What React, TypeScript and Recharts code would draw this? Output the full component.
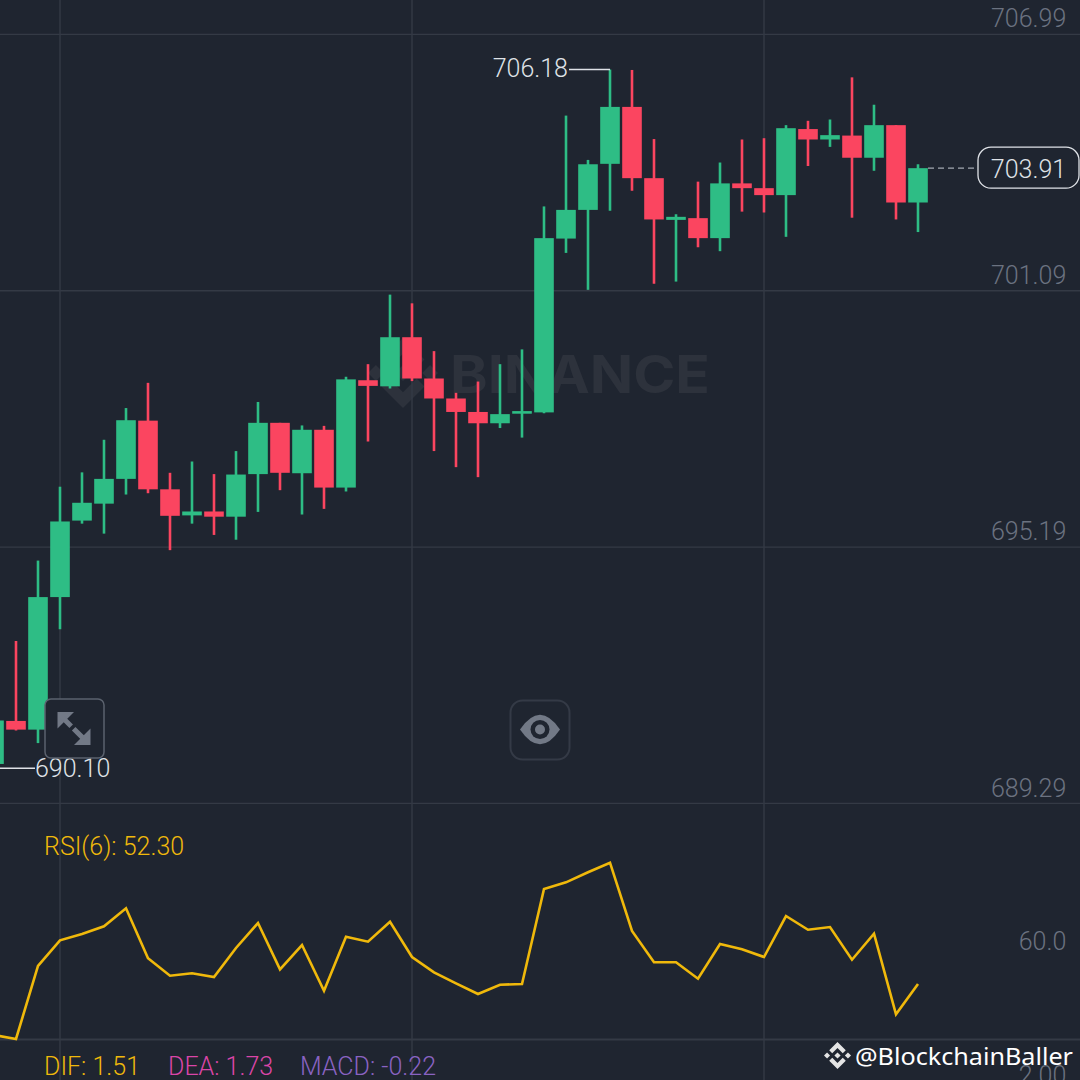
import React from 'react';
import {
  ComposedChart, Bar, Line, XAxis, YAxis, CartesianGrid, ReferenceDot, ReferenceLine
} from 'recharts';

// candle values, oldest first
const opens = [690.20, 691.19, 690.99, 694.04, 695.80, 696.19, 696.76, 698.10, 696.52, 695.92, 696.01, 695.89, 696.87, 698.05, 696.89, 697.89, 696.56, 699.03, 698.89, 700.02, 699.07, 698.61, 698.30, 698.04, 698.26, 698.29, 702.29, 702.95, 704.01, 705.32, 703.68, 702.72, 702.76, 702.30, 703.56, 703.45, 703.29, 704.81, 704.57, 704.66, 704.15, 704.90, 703.12];
const highs = [691.35, 693.03, 694.88, 696.58, 696.91, 697.66, 698.39, 698.97, 696.90, 697.16, 696.87, 697.40, 698.53, 698.05, 697.99, 697.98, 699.11, 699.40, 701.00, 700.80, 699.70, 698.74, 699.00, 699.40, 699.74, 703.03, 705.12, 704.10, 706.18, 706.17, 704.58, 702.85, 703.60, 704.04, 704.57, 704.60, 704.90, 705.00, 705.03, 706.00, 705.37, 704.90, 704.00];
const lows = [690.10, 690.97, 690.68, 693.30, 695.73, 695.50, 696.40, 696.43, 695.12, 695.73, 695.47, 695.36, 696.00, 696.50, 695.94, 696.07, 696.47, 697.62, 698.84, 699.01, 697.40, 697.03, 696.80, 697.93, 697.71, 698.27, 701.96, 701.11, 702.93, 703.39, 701.25, 701.30, 702.09, 702.00, 702.91, 702.89, 702.33, 703.96, 704.40, 702.77, 703.85, 702.73, 702.44];
const closes = [691.20, 690.99, 694.04, 695.78, 696.21, 696.76, 698.11, 696.52, 695.91, 696.01, 695.89, 696.86, 698.05, 696.90, 697.89, 696.56, 699.05, 698.90, 700.02, 699.07, 698.61, 698.30, 698.04, 698.25, 698.32, 702.30, 702.95, 704.00, 705.32, 703.68, 702.73, 702.79, 702.30, 703.56, 703.45, 703.29, 704.83, 704.57, 704.67, 704.15, 704.90, 703.12, 703.91];
const rsiValues = [38.0, 36.9, 57.34, 64.54, 66.30, 68.46, 73.50, 59.50, 54.62, 55.29, 54.26, 62.38, 69.38, 56.41, 63.22, 50.42, 65.55, 64.15, 69.75, 59.86, 55.57, 52.49, 49.50, 52.10, 52.30, 78.91, 80.78, 83.59, 86.27, 67.14, 58.38, 58.38, 53.78, 63.50, 62.02, 59.86, 71.34, 67.50, 68.26, 59.10, 66.39, 43.81, 52.30];

const priceTicks = [689.29, 695.19, 701.09, 706.99];
const priceDomain = [689.29, 707.826]; // top runs past the last tick so the vertical grid reaches the edge
const rsiTicks = [60];
const macdTicks = [2];
const gridCandles = [3, 19, 35];
const emptySlots = 7;

const maxPrice = 706.18;
const minPrice = 690.10;
const lastPrice = 703.91;

const data = [...opens, ...Array(emptySlots).fill(null)].map((_, i) => ({
  i,
  open: opens[i],
  high: highs[i],
  low: lows[i],
  close: closes[i],
  range: i < opens.length ? [lows[i], highs[i]] : null,
  rsi: i < opens.length ? rsiValues[i] : null,
}));

const BG = '#1f2530';
const GRID = '#343a45';
const AXIS_TEXT = '#6b7280';
const UP = '#2EBD85';
const DOWN = '#FB4560';
const SOFT_WHITE = '#dfe2e7';
const GOLD = '#F0B90B';
const FONT = 'Roboto, sans-serif';
const FONT_SIZE = 25;

const CHART_LEFT = -17.3;
const CHART_WIDTH = 1100;
const LABEL_X = 1066 - CHART_LEFT;

const Candle = (props: any) => {
  const { x, y, width, height, payload } = props;
  if (payload.open == null) return null;
  const top = Math.min(y, y + height);
  const h = Math.abs(height);
  const span = payload.high - payload.low;
  const toY = (v: number) => top + ((payload.high - v) / span) * h;
  const color = payload.close >= payload.open ? UP : DOWN;
  const bodyTop = toY(Math.max(payload.open, payload.close));
  const bodyBottom = toY(Math.min(payload.open, payload.close));
  const cx = x + width / 2;
  return (
    <g>
      <line x1={cx} x2={cx} y1={top} y2={top + h} stroke={color} strokeWidth={2.6} />
      <rect x={x + 0.2} y={bodyTop} width={width - 0.4} height={Math.max(bodyBottom - bodyTop, 1)} fill={color} />
    </g>
  );
};

const axisTick = (digits: number) => (props: any) => (
  <text x={LABEL_X} y={props.y - 7} textAnchor="end" fontFamily={FONT} fontWeight={300} fontSize={FONT_SIZE} fill={AXIS_TEXT}>
    {Number(props.payload.value).toFixed(digits)}
  </text>
);

const BinanceMark = ({ x, y, size, fill }: { x: number; y: number; size: number; fill: string }) => (
  <g transform={`translate(${x} ${y}) scale(${size / 126.61})`} fill={fill}>
    <path d="M38.73 53.2L63.3 28.63 87.88 53.21l14.3-14.3L63.3 0 24.43 38.88z" />
    <path d="M0 63.31L14.3 49.01 28.6 63.31 14.3 77.61z" />
    <path d="M38.73 73.41L63.3 97.98 87.88 73.4 102.19 87.69 63.3 126.61 24.42 87.72z" />
    <path d="M98.01 63.31L112.31 49.01 126.61 63.31 112.31 77.61z" />
    <path d="M77.83 63.3L63.3 48.76 48.77 63.28 63.3 77.83z" />
  </g>
);

const xAxisProps = {
  dataKey: 'i',
  scale: 'band' as const,
  ticks: gridCandles,
  interval: 0 as const,
  tick: () => <g />,
  axisLine: false,
  tickLine: false,
  height: 1,
  mirror: true,
};

const panelStyle = (top: number): React.CSSProperties => ({ position: 'absolute', left: CHART_LEFT, top });

export default function App() {
  return (
    <div style={{ position: 'absolute', left: 0, top: 0, width: 1080, height: 1080, overflow: 'hidden', background: BG }}>
      {/* watermark sits under the candles */}
      <svg width={1080} height={1080} style={{ position: 'absolute', left: 0, top: 0 }}>
        <BinanceMark x={368} y={338} size={70} fill="#2d323c" />
        <text x={450} y={392.5} fontFamily="Inter, sans-serif" fontWeight={700} fontSize={52} textLength={260} lengthAdjust="spacingAndGlyphs" fill="#2d323c">
          BINANCE
        </text>
      </svg>

      <div style={panelStyle(-2)}>
        <ComposedChart width={CHART_WIDTH} height={806} data={data} margin={{ top: 0, right: 0, bottom: 0.5, left: 0 }} barSize={20}>
          <CartesianGrid stroke={GRID} strokeWidth={1.4} />
          <XAxis {...xAxisProps} />
          <YAxis
            orientation="right"
            width={1}
            mirror
            domain={priceDomain}
            ticks={priceTicks}
            interval={0}
            axisLine={false}
            tickLine={false}
            tick={axisTick(2)}
          />
          <Bar dataKey="range" shape={Candle} isAnimationActive={false} />
          <ReferenceDot
            x={highs.indexOf(maxPrice)}
            y={maxPrice}
            r={0}
            shape={(p: any) => (
              <g>
                <line x1={p.cx - 41} x2={p.cx} y1={p.cy} y2={p.cy} stroke={SOFT_WHITE} strokeWidth={1.5} />
                <text x={p.cx - 42} y={p.cy + 7.5} textAnchor="end" fontFamily={FONT} fontWeight={300} fontSize={FONT_SIZE} fill={SOFT_WHITE}>
                  {maxPrice.toFixed(2)}
                </text>
              </g>
            )}
          />
          <ReferenceDot
            x={lows.indexOf(minPrice)}
            y={minPrice}
            r={0}
            shape={(p: any) => (
              <g>
                <line x1={p.cx} x2={p.cx + 41} y1={p.cy} y2={p.cy} stroke={SOFT_WHITE} strokeWidth={1.5} />
                <text x={p.cx + 41} y={p.cy + 8.5} fontFamily={FONT} fontWeight={300} fontSize={FONT_SIZE} fill={SOFT_WHITE}>
                  {minPrice.toFixed(2)}
                </text>
              </g>
            )}
          />
          <ReferenceDot
            x={opens.length - 1}
            y={lastPrice}
            r={0}
            shape={(p: any) => (
              <g>
                <line x1={p.cx + 10} x2={p.cx + 60} y1={p.cy} y2={p.cy} stroke="#a4a9b1" strokeWidth={1.2} strokeDasharray="6 4" />
                <rect x={p.cx + 60} y={p.cy - 21} width={101} height={41} rx={13} fill={BG} stroke={SOFT_WHITE} strokeWidth={1.3} />
                <text x={p.cx + 110.5} y={p.cy + 10} textAnchor="middle" fontFamily={FONT} fontWeight={300} fontSize={FONT_SIZE} fill={SOFT_WHITE}>
                  {lastPrice.toFixed(2)}
                </text>
              </g>
            )}
          />
        </ComposedChart>
      </div>

      <div style={panelStyle(804)}>
        <ComposedChart width={CHART_WIDTH} height={238} data={data} margin={{ top: 0, right: 0, bottom: 2.5, left: 0 }}>
          <CartesianGrid stroke={GRID} strokeWidth={1.4} horizontal={false} />
          <XAxis {...xAxisProps} />
          <YAxis
            orientation="right"
            width={1}
            mirror
            domain={[36.75, 102.72]}
            ticks={rsiTicks}
            interval={0}
            axisLine={false}
            tickLine={false}
            tick={axisTick(1)}
          />
          <ReferenceLine y={36.75} stroke={GRID} strokeWidth={2} />
          <Line dataKey="rsi" type="linear" stroke={GOLD} strokeWidth={2.6} dot={false} activeDot={false} isAnimationActive={false} />
        </ComposedChart>
      </div>

      <div style={panelStyle(1040)}>
        <ComposedChart width={CHART_WIDTH} height={60} data={data} margin={{ top: 0, right: 0, bottom: 0, left: 0 }}>
          <CartesianGrid stroke={GRID} strokeWidth={1.4} horizontal={false} />
          <XAxis {...xAxisProps} />
          <YAxis
            orientation="right"
            width={1}
            mirror
            type="number"
            allowDataOverflow
            domain={[1.6, 4.3]}
            ticks={macdTicks}
            interval={0}
            axisLine={false}
            tickLine={false}
            tick={axisTick(2)}
          />
        </ComposedChart>
      </div>

      {/* buttons and legends on top of everything */}
      <svg width={1080} height={1080} style={{ position: 'absolute', left: 0, top: 0 }}>
        <rect x={45} y={699} width={59} height={59} rx={6} fill={BG} stroke="#5b626e" strokeWidth={1.5} />
        <g fill="#727986" stroke="none">
          <path d="M57.5 712H74L57.5 728.5z" />
          <path d="M90.5 745H74L90.5 728.5z" />
        </g>
        <line x1={62} y1={717} x2={86} y2={741} stroke="#727986" strokeWidth={5} strokeDasharray="13 3.5 13" />

        <rect x={510.5} y={700.5} width={59} height={59} rx={12} fill={BG} stroke="#343a46" strokeWidth={2} />
        <path d="M520 729.5Q540 700 560 729.5Q540 759 520 729.5z" fill="#727986" />
        <circle cx={540} cy={729.5} r={9.5} fill={BG} />
        <circle cx={540} cy={729.5} r={5} fill="#727986" />

        <text x={44} y={854.5} fontFamily={FONT} fontWeight={300} fontSize={FONT_SIZE} fill={GOLD}>RSI(6): 52.30</text>
        <text y={1075} fontFamily={FONT} fontWeight={300} fontSize={FONT_SIZE}>
          <tspan x={44} fill={GOLD}>DIF: 1.51</tspan>
          <tspan x={168} fill="#DB45A8">DEA: 1.73</tspan>
          <tspan x={300} fill="#8A63C2">MACD: -0.22</tspan>
        </text>

        <BinanceMark x={824} y={1042} size={27} fill="#e4e4e4" />
        <text x={855} y={1065} fontFamily="'Noto Sans', sans-serif" fontSize={24} textLength={218} lengthAdjust="spacingAndGlyphs" fill="#ffffff">
          @BlockchainBaller
        </text>
      </svg>
    </div>
  );
}
